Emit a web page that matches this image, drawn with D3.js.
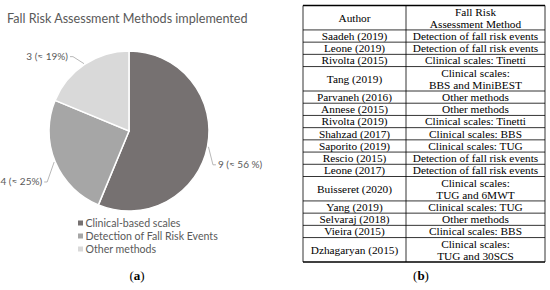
<!DOCTYPE html>
<html><head><meta charset="utf-8">
<script src="https://cdn.jsdelivr.net/npm/d3@7/dist/d3.min.js"></script>
<style>body{margin:0;background:#fff}svg{display:block}</style>
</head><body>
<script>
// ---- data ----
const categories = ["Clinical-based scales", "Detection of Fall Risk Events", "Other methods"];
const counts = [9, 4, 3];
const sliceLabels = ["9 (\u2248 56 %)", "4 (\u2248 25%)", "3 (\u2248 19%)"];
const chartTitle = "Fall Risk Assessment Methods implemented";
const headerAuthor = ["Author"];
const headerMethod = ["Fall Risk", "Assessment Method"];
const authors = ["Saadeh (2019)","Leone (2019)","Rivolta (2015)","Tang (2019)","Parvaneh (2016)","Annese (2015)","Rivolta (2019)","Shahzad (2017)","Saporito (2019)","Rescio (2015)","Leone (2017)","Buisseret (2020)","Yang (2019)","Selvaraj (2018)","Vieira (2015)","Dzhagaryan (2015)"];
const methods = [["Detection of fall risk events"],["Detection of fall risk events"],["Clinical scales: Tinetti"],["Clinical scales:","BBS and MiniBEST"],["Other methods"],["Other methods"],["Clinical scales: Tinetti"],["Clinical scales: BBS"],["Clinical scales: TUG"],["Detection of fall risk events"],["Detection of fall risk events"],["Clinical scales:","TUG and 6MWT"],["Clinical scales: TUG"],["Other methods"],["Clinical scales: BBS"],["Clinical scales:","TUG and 30SCS"]];

const W = 550, H = 290;
const svg = d3.select("body").append("svg").attr("width", W).attr("height", H);
const sans = "Lato, 'Open Sans', sans-serif";

// ---- pie ----
const cx = 129, cy = 131, R = 80;
const color = d3.scaleOrdinal().domain(categories).range(["#767171", "#a6a6a6", "#d9d9d9"]);
const pie = d3.pie().sort(null).value(d => d.v);
const arcs = pie(categories.map((c, i) => ({c, v: counts[i], label: sliceLabels[i]})));
const arc = d3.arc().innerRadius(0).outerRadius(R);
const g = svg.append("g").attr("transform", `translate(${cx},${cy})`);
g.selectAll("path").data(arcs).join("path")
  .attr("d", arc).attr("fill", d => color(d.data.c))
  .attr("stroke", "#fff").attr("stroke-width", 1.5);

svg.append("text").attr("x", 7).attr("y", 23)
  .attr("font-family", sans).attr("font-size", 12.6)
  .attr("fill", "#595959").text(chartTitle);

// label layout offsets (from slice edge)
const labelLayout = [
  {bend: [4.5, 18], tail: 3, anchor: "start"},
  {bend: [-7, 20], tail: -3, anchor: "end"},
  {bend: [-11, -7], tail: -3, anchor: "end"}
];
arcs.forEach((a, i) => {
  const m = (a.startAngle + a.endAngle) / 2;
  const ex = cx + (R + 1) * Math.sin(m), ey = cy - (R + 1) * Math.cos(m);
  const L = labelLayout[i];
  const bx = ex + L.bend[0], by = ey + L.bend[1];
  const tx = bx + L.tail;
  svg.append("polyline").attr("points", `${ex},${ey} ${bx},${by} ${tx},${by}`)
    .attr("fill", "none").attr("stroke", "#a6a6a6").attr("stroke-width", 0.8);
  svg.append("text").attr("x", tx + (L.anchor === "start" ? 2 : -2)).attr("y", by + 3.5)
    .attr("text-anchor", L.anchor)
    .attr("font-family", sans).attr("font-size", 10)
    .attr("fill", "#595959").text(a.data.label);
});

// legend
const ly = d3.scaleBand().domain(categories).range([216.5, 255.5]);
const lg = svg.append("g");
lg.selectAll("rect").data(categories).join("rect")
  .attr("x", 78).attr("y", d => ly(d) + ly.bandwidth() / 2 - 2.5)
  .attr("width", 5).attr("height", 5).attr("fill", d => color(d));
lg.selectAll("text").data(categories).join("text")
  .attr("x", 85.5).attr("y", d => ly(d) + ly.bandwidth() / 2 + 3.8)
  .attr("font-family", sans).attr("font-size", 10.6)
  .attr("fill", "#595959").text(d => d);

// captions
function caption(x, letter) {
  const t = svg.append("text").attr("x", x).attr("y", 280).attr("text-anchor", "middle")
    .attr("font-family", "'Liberation Serif', 'DejaVu Serif', serif").attr("font-size", 13).attr("fill", "#000");
  t.append("tspan").text("(");
  t.append("tspan").attr("font-weight", "bold").text(letter);
  t.append("tspan").text(")");
}
caption(137, "a");
caption(421, "b");

// ---- table ----
const rows = [{a: headerAuthor, m: headerMethod}].concat(authors.map((a, i) => ({a: [a], m: methods[i]})));
rows.forEach(r => r.n = Math.max(r.a.length, r.m.length));
let acc = 0;
rows.forEach(r => { r.u0 = acc; acc += r.n; r.u1 = acc; });
const tx0 = 303, tx1 = 545, tdiv = 406;
const y = d3.scaleLinear().domain([0, acc]).range([5.5, 262]);
const tg = svg.append("g");
const font = "'Liberation Serif', 'DejaVu Serif', serif";
tg.selectAll("line.h").data(rows.slice(1)).join("line").attr("class", "h")
  .attr("x1", tx0).attr("x2", tx1).attr("y1", d => y(d.u0)).attr("y2", d => y(d.u0))
  .attr("stroke", "#000").attr("stroke-width", 0.8);
tg.append("line").attr("x1", tx0).attr("x2", tx1).attr("y1", y(0)).attr("y2", y(0)).attr("stroke", "#000").attr("stroke-width", 1.4);
tg.append("line").attr("x1", tx0).attr("x2", tx1).attr("y1", y(acc)).attr("y2", y(acc)).attr("stroke", "#000").attr("stroke-width", 1.4);
[tx0, tdiv, tx1].forEach(x => tg.append("line").attr("x1", x).attr("x2", x).attr("y1", y(0)).attr("y2", y(acc)).attr("stroke", "#000").attr("stroke-width", 0.8));
const lh = y(1) - y(0);
rows.forEach(r => {
  const mid = (y(r.u0) + y(r.u1)) / 2;
  [[r.a, (tx0 + tdiv) / 2], [r.m, (tdiv + tx1) / 2]].forEach(([lines, x]) => {
    lines.forEach((s, k) => {
      tg.append("text").attr("x", x)
        .attr("y", mid + (k - (lines.length - 1) / 2) * lh + 3.9)
        .attr("text-anchor", "middle").attr("font-family", font).attr("font-size", 11.3)
        .attr("fill", "#000").text(s);
    });
  });
});
</script>
</body></html>
